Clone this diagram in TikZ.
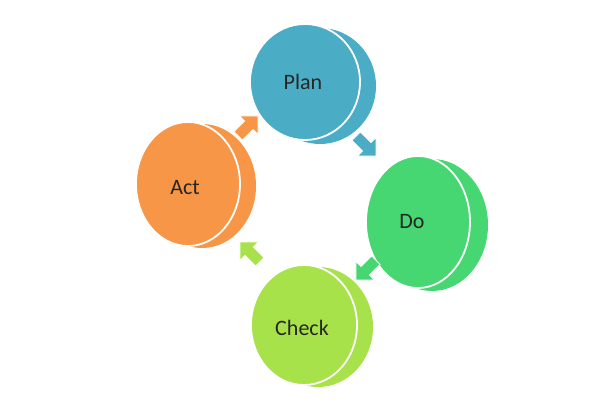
\documentclass[tikz,border=0pt]{standalone}
\usepackage{fontspec}
\setmainfont{Carlito}
\usetikzlibrary{shapes.arrows}
\tikzset{
  cyl/.style={fill=#1, draw=white, line width=1.8pt},
  lbl/.style={font=\fontsize{22}{26}\selectfont, text=black!85},
  blk/.style={single arrow, fill=#1, draw=white, line width=0.8pt, minimum height=28pt, minimum width=26pt, single arrow head extend=4pt, inner sep=3pt}
}
\definecolor{cplan}{HTML}{4BACC6}
\definecolor{cdo}{HTML}{46D672}
\definecolor{ccheck}{HTML}{A8E24A}
\definecolor{cact}{HTML}{F79646}
\begin{document}
\begin{tikzpicture}[x=1pt,y=-1pt]
\useasboundingbox (0,0) rectangle (606,409);
% Plan
\fill[cplan] (320,86) ellipse [x radius=56, y radius=58];
\draw[cyl=cplan] (305,82) ellipse [x radius=55, y radius=58];
\node[lbl] (plan) at (303,82) {Plan};
% Do
\fill[cdo] (432,225) ellipse [x radius=56, y radius=66];
\draw[cyl=cdo] (418,222) ellipse [x radius=52, y radius=66];
\node[lbl] (do) at (412,222) {Do};
% Check
\fill[ccheck] (318,327) ellipse [x radius=55, y radius=60];
\draw[cyl=ccheck] (304,325) ellipse [x radius=53, y radius=60];
\node[lbl] (check) at (302,328) {Check};
% Act
\fill[cact] (202,186) ellipse [x radius=54, y radius=62];
\draw[cyl=cact] (188,184) ellipse [x radius=52, y radius=62];
\node[lbl] (act) at (185,188) {Act};
% arrows
\node[blk=cplan, rotate=-45] (a1) at (364,144) {};
\node[blk=cdo, rotate=-135] (a2) at (368,268) {};
\node[blk=ccheck, rotate=135] (a3) at (252,254) {};
\node[blk=cact, rotate=45] (a4) at (246,128) {};
\end{tikzpicture}
\end{document}
